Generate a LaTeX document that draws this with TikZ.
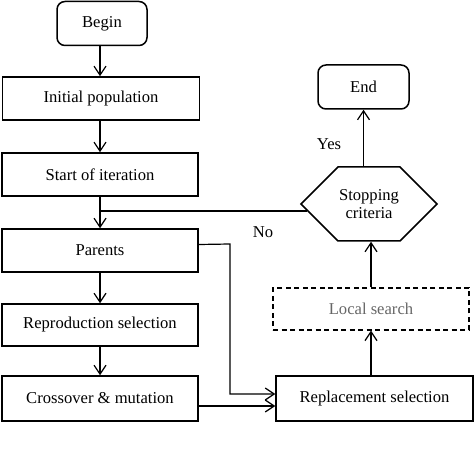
\documentclass[tikz,border=0pt]{standalone}
\usepackage{fontspec}
\setmainfont{Liberation Serif}
\usetikzlibrary{arrows.meta,shapes.symbols}
\tikzset{
  box/.style={draw, line width=1.5pt, inner sep=0pt, minimum width=196pt, minimum height=43pt},
  term/.style={box, rounded corners=8pt, minimum width=90pt, minimum height=44pt},
  flow/.style={line width=1.2pt, -{Straight Barb[length=9pt,width=12pt,line width=1.2pt]}},
}
\begin{document}
\begin{tikzpicture}[x=1pt,y=-1pt,font=\fontsize{16.6}{19}\selectfont]
      \useasboundingbox (0,0) rectangle (474,454);
      \node[term] (begin) at (102,23.5) {Begin};
      \node[box, minimum width=197pt] (init) at (101,98.5) {Initial population};
      \node[box] (start) at (100,174.5) {Start of iteration};
      \node[box] (parents) at (100,250.5) {Parents};
      \node[box, minimum height=42pt] (repro) at (100,325) {Reproduction selection};
      \node[box, minimum height=45pt] (cross) at (100,398.5) {Crossover \& mutation};
      \node[box, minimum width=197pt, minimum height=45pt] (repl) at (374.5,398.5) {Replacement selection};
      \node[box, dash pattern=on 5pt off 3.5pt, line width=1.2pt, minimum height=42pt, text=black!60] (local) at (371,309) {Local search};
      \node[draw, line width=1.5pt, shape=signal, signal to=east and west,
            minimum width=136pt, minimum height=74pt, inner sep=0pt, align=center,
            font=\fontsize{16.6}{18}\selectfont] (stop) at (369,204) {Stopping\\criteria};
      \node[term, minimum width=91pt] (end) at (363.5,87) {End};
      \coordinate (nojoin) at (100,211);
      \coordinate (bend) at (230,244);
      \begin{scope}[flow]
        \draw (begin.south -| 100,0) -- (init.north -| 100,0);
        \draw (init.south -| 100,0) -- (start.north -| 100,0);
        \draw (start.south) -- (parents.north);
        \draw (repro.north |- parents.south) -- (repro.north);
        \draw (repro.south) -- (cross.north);
        \draw ([yshift=6pt]parents.east) -- (bend) |- ([yshift=4.5pt]repl.west);
        \draw ([yshift=-7.5pt]cross.east) -- ([yshift=-7.5pt]repl.west);
        \draw (local.south |- repl.north) -- (local.south);
        \draw (local.north) -- (local.north |- stop.south);
        \draw (end.south |- stop.north) -- (end.south);
      \end{scope}
      \draw[line width=1.2pt] ([xshift=7pt,yshift=-7pt]stop.west) -- (nojoin);
      \node (yes) at (329,144) {Yes};
      \node (no) at (263,232) {No};
    \end{tikzpicture}
\end{document}
